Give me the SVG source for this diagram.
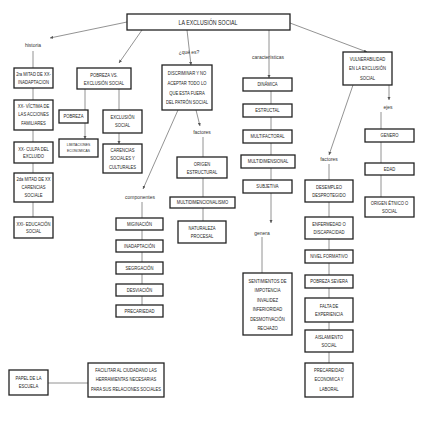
<svg xmlns="http://www.w3.org/2000/svg" width="427" height="427" viewBox="0 0 427 427">
<style>
.b{fill:#fff;stroke:#222;stroke-width:1.3}
.t{font-family:"Liberation Sans",Arial,sans-serif;font-size:5.2px;fill:#222;text-anchor:middle}
.s{font-size:4.2px}
.l{font-family:"Liberation Sans",Arial,sans-serif;font-size:6.2px;fill:#333;text-anchor:middle}
.c{stroke:#777;stroke-width:0.8;fill:none}
.a{marker-end:url(#ah)}
</style>
<defs>
<marker id="ah" viewBox="0 0 6 6" refX="6" refY="3" markerWidth="4" markerHeight="4" orient="auto"><path d="M0,0 L6,3 L0,6 z" fill="#555"/></marker>
</defs>
<rect width="427" height="427" fill="#fff"/>
<g id="connectors">
<line class="c a" x1="127" y1="22" x2="50" y2="38"/>
<line class="c a" x1="142" y1="30" x2="119" y2="63"/>
<line class="c a" x1="187" y1="30" x2="191" y2="65"/>
<line class="c a" x1="269" y1="30" x2="269" y2="78"/>
<line class="c a" x1="290" y1="23" x2="367" y2="52"/>
<line class="c" x1="33" y1="51" x2="33" y2="217"/>
<line class="c" x1="85" y1="89" x2="85" y2="110"/>
<line class="c a" x1="85" y1="123" x2="85" y2="139"/>
<line class="c" x1="119" y1="89" x2="119" y2="110"/>
<line class="c a" x1="119" y1="133" x2="119" y2="144"/>
<line class="c a" x1="178" y1="110" x2="143" y2="189"/>
<line class="c a" x1="196" y1="110" x2="200" y2="126"/>
<line class="c" x1="203" y1="137" x2="203" y2="221"/>
<line class="c" x1="142" y1="202" x2="142" y2="305"/>
<line class="c" x1="271" y1="91" x2="271" y2="180"/>
<line class="c a" x1="271" y1="193" x2="271" y2="223"/>
<line class="c" x1="262" y1="237" x2="262" y2="273"/>
<line class="c a" x1="389" y1="85" x2="389" y2="100"/>
<line class="c" x1="381" y1="112" x2="381" y2="197"/>
<line class="c a" x1="353" y1="85" x2="329" y2="155"/>
<line class="c" x1="329" y1="164" x2="329" y2="363"/>
<line class="c" x1="48" y1="383" x2="95" y2="383"/>
</g>
<g id="labels">
<text class="l" transform="translate(33,47) scale(0.8 1)">historia</text>
<text class="l" transform="translate(189,54) scale(0.8 1)">¿qué es?</text>
<text class="l" transform="translate(268,59) scale(0.8 1)">características</text>
<text class="l" transform="translate(140,199) scale(0.8 1)">componentes</text>
<text class="l" transform="translate(202,134) scale(0.8 1)">factores</text>
<text class="l" transform="translate(262,235) scale(0.8 1)">genera</text>
<text class="l" transform="translate(388,109) scale(0.8 1)">ejes</text>
<text class="l" transform="translate(329,161) scale(0.8 1)">factores</text>
</g>
<g id="n-title"><rect class="b" x="127" y="14" width="163" height="16"/><text class="t" style="font-size:6.6px" transform="translate(208,24.5) scale(0.8 1)">LA EXCLUSIÓN SOCIAL</text></g>
<g id="n-h1"><rect class="b" x="14" y="68" width="39" height="20"/><text class="t" transform="translate(33.5,76) scale(0.8 1)"><tspan x="0" y="0">2ra MITAD DE XX-</tspan><tspan x="0" y="8">INADAPTACION</tspan></text></g>
<g id="n-h2"><rect class="b" x="14" y="100" width="39" height="30"/><text class="t" transform="translate(33.5,108) scale(0.8 1)"><tspan x="0" y="0">XX- VÍCTIMA DE</tspan><tspan x="0" y="8.3">LAS ACCIONES</tspan><tspan x="0" y="16.6">FAMILIARES</tspan></text></g>
<g id="n-h3"><rect class="b" x="14" y="142" width="39" height="21"/><text class="t" transform="translate(33.5,150.5) scale(0.8 1)"><tspan x="0" y="0">XX- CULPA DEL</tspan><tspan x="0" y="8">EXCLUIDO</tspan></text></g>
<g id="n-h4"><rect class="b" x="14" y="173" width="39" height="29"/><text class="t" transform="translate(33.5,180.5) scale(0.8 1)"><tspan x="0" y="0">2da MITAD DE XX</tspan><tspan x="0" y="8.3">CARENCIAS</tspan><tspan x="0" y="16.6">SOCIALE</tspan></text></g>
<g id="n-h5"><rect class="b" x="14" y="217" width="39" height="21"/><text class="t" transform="translate(33.5,225.5) scale(0.8 1)"><tspan x="0" y="0">XXI- EDUCACIÓN</tspan><tspan x="0" y="8">SOCIAL</tspan></text></g>
<g id="n-pobvs"><rect class="b" x="77" y="68" width="54" height="21"/><text class="t" transform="translate(104,76.5) scale(0.8 1)"><tspan x="0" y="0">POBREZA VS.</tspan><tspan x="0" y="9">EXCLUSIÓN SOCIAL</tspan></text></g>
<g id="n-pobreza"><rect class="b" x="59" y="110" width="29" height="13"/><text class="t" transform="translate(73.5,118.3) scale(0.8 1)">POBREZA</text></g>
<g id="n-limit"><rect class="b" x="59" y="139" width="39" height="18"/><text class="t s" transform="translate(78.5,146) scale(0.8 1)"><tspan x="0" y="0">LIMITACIONES</tspan><tspan x="0" y="6">ECONOMICAS</tspan></text></g>
<g id="n-exclusion"><rect class="b" x="103" y="110" width="39" height="23"/><text class="t" transform="translate(122.5,119) scale(0.8 1)"><tspan x="0" y="0">EXCLUSIÓN</tspan><tspan x="0" y="8.5">SOCIAL</tspan></text></g>
<g id="n-carencias"><rect class="b" x="103" y="144" width="39" height="29"/><text class="t" transform="translate(122.5,152) scale(0.8 1)"><tspan x="0" y="0">CARENCIAS</tspan><tspan x="0" y="8.3">SOCIALES Y</tspan><tspan x="0" y="16.6">CULTURALES</tspan></text></g>
<g id="n-discriminar"><rect class="b" x="162" y="65" width="50" height="45"/><text class="t" transform="translate(187,75) scale(0.8 1)"><tspan x="0" y="0">DISCRIMINAR Y NO</tspan><tspan x="0" y="9.8">ACEPTAR TODO LO</tspan><tspan x="0" y="19.6">QUE ESTA FUERA</tspan><tspan x="0" y="29.4">DEL PATRÓN SOCIAL</tspan></text></g>
<g id="n-origen"><rect class="b" x="177" y="157" width="50" height="21"/><text class="t" transform="translate(202,165.5) scale(0.8 1)"><tspan x="0" y="0">ORIGEN</tspan><tspan x="0" y="8.5">ESTRUCTURAL</tspan></text></g>
<g id="n-multidimen"><rect class="b" x="170" y="197" width="65" height="11"/><text class="t" transform="translate(202.5,204.3) scale(0.8 1)">MULTIDIMENCIONALISMO</text></g>
<g id="n-naturaleza"><rect class="b" x="178" y="221" width="48" height="22"/><text class="t" transform="translate(202,230) scale(0.8 1)"><tspan x="0" y="0">NATURALEZA</tspan><tspan x="0" y="8.5">PROCESAL</tspan></text></g>
<g id="n-miginacion"><rect class="b" x="116" y="218" width="47" height="12"/><text class="t" transform="translate(139.5,225.8) scale(0.8 1)">MIGINACIÓN</text></g>
<g id="n-inadaptacion"><rect class="b" x="116" y="240" width="47" height="12"/><text class="t" transform="translate(139.5,247.8) scale(0.8 1)">INADAPTACIÓN</text></g>
<g id="n-segregacion"><rect class="b" x="116" y="262" width="47" height="12"/><text class="t" transform="translate(139.5,269.8) scale(0.8 1)">SEGRGACIÓN</text></g>
<g id="n-desviacion"><rect class="b" x="116" y="284" width="47" height="12"/><text class="t" transform="translate(139.5,291.8) scale(0.8 1)">DESVIACIÓN</text></g>
<g id="n-precariedad"><rect class="b" x="116" y="305" width="47" height="12"/><text class="t" transform="translate(139.5,312.8) scale(0.8 1)">PRECARIEDAD</text></g>
<g id="n-dinamica"><rect class="b" x="243" y="78" width="49" height="13"/><text class="t" transform="translate(267.5,86.3) scale(0.8 1)">DINÁMICA</text></g>
<g id="n-estructal"><rect class="b" x="243" y="104" width="49" height="13"/><text class="t" transform="translate(267.5,112.3) scale(0.8 1)">ESTRUCTAL</text></g>
<g id="n-multifactoral"><rect class="b" x="243" y="130" width="49" height="13"/><text class="t" transform="translate(267.5,138.3) scale(0.8 1)">MULTIFACTORAL</text></g>
<g id="n-multidimensional"><rect class="b" x="241" y="155" width="54" height="13"/><text class="t" transform="translate(268,163.3) scale(0.8 1)">MULTIDIMENSIONAL</text></g>
<g id="n-subjetiva"><rect class="b" x="243" y="180" width="49" height="13"/><text class="t" transform="translate(267.5,188.3) scale(0.8 1)">SUBJETIVA</text></g>
<g id="n-sentimientos"><rect class="b" x="243" y="273" width="49" height="62"/><text class="t" transform="translate(267.5,283) scale(0.8 1)"><tspan x="0" y="0">SENTIMIENTOS DE</tspan><tspan x="0" y="9.4">IMPOTENCIA</tspan><tspan x="0" y="18.8">INVALIDEZ</tspan><tspan x="0" y="28.2">INFERIORIDAD</tspan><tspan x="0" y="37.6">DESMOTIVACIÓN</tspan><tspan x="0" y="47">RECHAZO</tspan></text></g>
<g id="n-vulnerabilidad"><rect class="b" x="343" y="52" width="49" height="33"/><text class="t" transform="translate(367.5,61) scale(0.8 1)"><tspan x="0" y="0">VULNERABILIDAD</tspan><tspan x="0" y="9.5">EN LA EXCLUSIÓN</tspan><tspan x="0" y="19">SOCIAL</tspan></text></g>
<g id="n-genero"><rect class="b" x="365" y="129" width="49" height="13"/><text class="t" transform="translate(389.5,137.3) scale(0.8 1)">GENERO</text></g>
<g id="n-edad"><rect class="b" x="365" y="163" width="49" height="12"/><text class="t" transform="translate(389.5,170.8) scale(0.8 1)">EDAD</text></g>
<g id="n-etnico"><rect class="b" x="365" y="197" width="49" height="20"/><text class="t" transform="translate(389.5,205) scale(0.8 1)"><tspan x="0" y="0">ORIGEN ÉTNICO O</tspan><tspan x="0" y="8.5">SOCIAL</tspan></text></g>
<g id="n-desempleo"><rect class="b" x="305" y="180" width="48" height="22"/><text class="t" transform="translate(329,189) scale(0.8 1)"><tspan x="0" y="0">DESEMPLEO</tspan><tspan x="0" y="8.5">DESPROTEGIDO</tspan></text></g>
<g id="n-enfermedad"><rect class="b" x="305" y="217" width="48" height="22"/><text class="t" transform="translate(329,226) scale(0.8 1)"><tspan x="0" y="0">ENFERMEDAD O</tspan><tspan x="0" y="8.5">DISCAPACIDAD</tspan></text></g>
<g id="n-nivel"><rect class="b" x="305" y="250" width="48" height="13"/><text class="t" transform="translate(329,258.3) scale(0.8 1)">NIVEL FORMATIVO</text></g>
<g id="n-pobsevera"><rect class="b" x="305" y="275" width="48" height="13"/><text class="t" transform="translate(329,283.3) scale(0.8 1)">POBREZA SEVERA</text></g>
<g id="n-falta"><rect class="b" x="305" y="298" width="48" height="24"/><text class="t" transform="translate(329,307.5) scale(0.8 1)"><tspan x="0" y="0">FALTA DE</tspan><tspan x="0" y="9">EXPERIENCIA</tspan></text></g>
<g id="n-aislamiento"><rect class="b" x="305" y="330" width="48" height="22"/><text class="t" transform="translate(329,339) scale(0.8 1)"><tspan x="0" y="0">AISLAMIENTO</tspan><tspan x="0" y="8.5">SOCIAL</tspan></text></g>
<g id="n-precareidad"><rect class="b" x="305" y="363" width="48" height="34"/><text class="t" transform="translate(329,372) scale(0.8 1)"><tspan x="0" y="0">PRECAREIDAD</tspan><tspan x="0" y="9.5">ECONOMICA Y</tspan><tspan x="0" y="19">LABORAL</tspan></text></g>
<g id="n-papel"><rect class="b" x="9" y="370" width="39" height="25"/><text class="t" transform="translate(28.5,380) scale(0.8 1)"><tspan x="0" y="0">PAPEL DE LA</tspan><tspan x="0" y="8.5">ESCUELA</tspan></text></g>
<g id="n-facilitar"><rect class="b" x="88" y="363" width="76" height="34"/><text class="t" transform="translate(126,372) scale(0.8 1)"><tspan x="0" y="0">FACILITAR AL CIUDADANO LAS</tspan><tspan x="0" y="9.5">HERRAMIENTAS NECESARIAS</tspan><tspan x="0" y="19">PARA SUS RELACIONES SOCIALES</tspan></text></g>
</svg>
